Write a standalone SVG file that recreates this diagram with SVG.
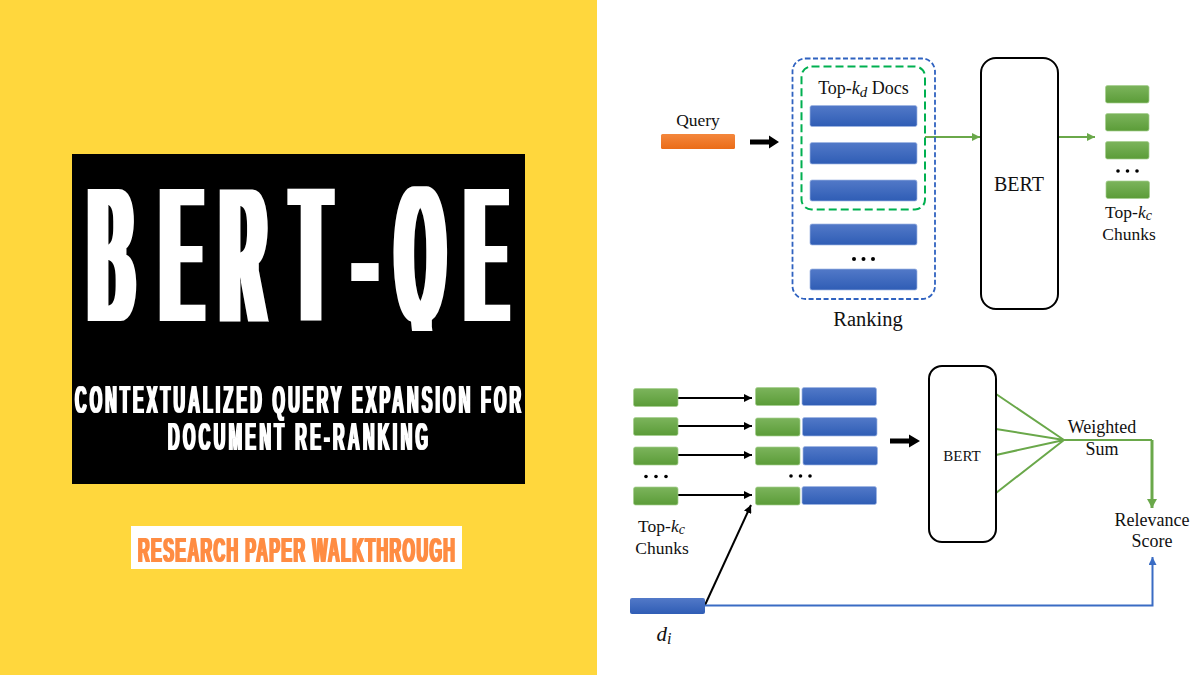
<svg xmlns="http://www.w3.org/2000/svg" width="1200" height="675" viewBox="0 0 1200 675">
<style>
.s{font-family:"Liberation Serif","Times New Roman",serif;fill:#111;text-anchor:middle}
.c{font-family:"Liberation Sans",Arial,sans-serif;font-weight:700}
.i{font-style:italic}
.g{fill:url(#gg);stroke:#a5cf8e;stroke-width:.7}
.b{fill:url(#gb);stroke:#9db5e3;stroke-width:.7}
.box{fill:#fff;stroke:#000;stroke-width:2}
.l{fill:none;stroke-linejoin:miter}
.d{fill:#000}
</style>
<defs>
<linearGradient id="gg" x1="0" y1="0" x2="0" y2="1"><stop offset="0" stop-color="#7cb45c"/><stop offset="1" stop-color="#5b9c38"/></linearGradient>
<linearGradient id="gb" x1="0" y1="0" x2="0" y2="1"><stop offset="0" stop-color="#5279c8"/><stop offset="1" stop-color="#2f5db5"/></linearGradient>
<linearGradient id="go" x1="0" y1="0" x2="0" y2="1"><stop offset="0" stop-color="#f4873c"/><stop offset="1" stop-color="#ea6c18"/></linearGradient>
<filter id="heavy" x="-5%" y="-5%" width="110%" height="110%"><feMorphology operator="erode" radius="0 3"/><feMorphology operator="dilate" radius="6 0"/></filter>
<filter id="bold" x="-5%" y="-10%" width="110%" height="120%"><feMorphology operator="dilate" radius=".6 0"/></filter>
<clipPath id="title-clip"><rect x="72" y="170" width="453" height="161"/></clipPath>
<marker id="ag" markerUnits="userSpaceOnUse" markerWidth="10" markerHeight="8" refX="8" refY="4" orient="auto"><path d="M0 0L8 4L0 8Z" fill="#6aa84a"/></marker>
<marker id="ak" markerUnits="userSpaceOnUse" markerWidth="10" markerHeight="8" refX="8" refY="4" orient="auto"><path d="M0 0L8 4L0 8Z" fill="#000"/></marker>
<marker id="ab" markerUnits="userSpaceOnUse" markerWidth="10" markerHeight="8" refX="8" refY="4" orient="auto"><path d="M0 0L8 4L0 8Z" fill="#3a6cc4"/></marker>
<marker id="agt" markerUnits="userSpaceOnUse" markerWidth="10" markerHeight="10" refX="9" refY="5" orient="auto"><path d="M0 0L9 5L0 10Z" fill="#6aa84a"/></marker>
</defs>
<rect width="1200" height="675" fill="#fff"/>
<rect width="597" height="675" fill="#ffd73d"/>
<g id="title-card">
<rect x="72" y="154" width="453" height="330" fill="#000"/>
<g clip-path="url(#title-clip)"><g filter="url(#heavy)"><text class="c" fill="#fff" font-size="200" transform="scale(.3 1)" y="324" x="299 539 739 976 1183 1323 1555">BERT-QE</text></g></g>
<g filter="url(#bold)"><text class="c" fill="#fff" font-size="38" transform="scale(.42 1)" x="178.600" y="413" textLength="1062" lengthAdjust="spacing">CONTEXTUALIZED QUERY EXPANSION FOR</text></g>
<g filter="url(#bold)"><text class="c" fill="#fff" font-size="38" transform="scale(.42 1)" x="400" y="450" textLength="619" lengthAdjust="spacing">DOCUMENT RE-RANKING</text></g>
</g>
<g id="walkthrough-badge">
<rect x="131" y="526" width="331" height="43" fill="#fff"/>
<g filter="url(#bold)"><text class="c" fill="#ff8c42" font-size="35" transform="scale(.46 1)" x="300" y="562" textLength="689" lengthAdjust="spacing">RESEARCH PAPER WALKTHROUGH</text></g>
</g>
<g id="connectors">
<path class="l" d="M925 137H980" stroke="#6aa84a" stroke-width="2" marker-end="url(#ag)"/>
<path class="l" d="M1059 137H1095" stroke="#6aa84a" stroke-width="2" marker-end="url(#ag)"/>
<path d="M750 139.500H769V135.500L779 142L769 148.500V144.500H750Z"/>
<path d="M890 438.500H909V434.500L920 441L909 447.500V443.500H890Z"/>
<path class="l" d="M678 398H752" stroke="#000" stroke-width="2" marker-end="url(#ak)"/>
<path class="l" d="M678 426H752" stroke="#000" stroke-width="2" marker-end="url(#ak)"/>
<path class="l" d="M678 455H752" stroke="#000" stroke-width="2" marker-end="url(#ak)"/>
<path class="l" d="M678 495H752" stroke="#000" stroke-width="2" marker-end="url(#ak)"/>
<path class="l" d="M705 605L751 505" stroke="#000" stroke-width="2" marker-end="url(#ak)"/>
<path class="l" d="M705 605.500H1152.500V557" stroke="#3a6cc4" stroke-width="2" marker-end="url(#ab)"/>
<path class="l" d="M996 394L1064 440M996 429L1064 440M996 455L1064 440M996 493L1064 440" stroke="#6aa84a" stroke-width="2"/>
<path class="l" d="M1064 440H1152" stroke="#6aa84a" stroke-width="2"/>
<path class="l" d="M1152 440V508" stroke="#6aa84a" stroke-width="3" marker-end="url(#agt)"/>
</g>
<g id="query">
<text class="s" font-size="17.500" x="698" y="126">Query</text>
<rect x="661" y="134" width="74" height="15" rx="1.500" fill="url(#go)"/>
</g>
<g id="ranking">
<rect class="l" x="792.500" y="58.500" width="142.500" height="240.500" rx="13" stroke="#2f62c0" stroke-width="1.800" stroke-dasharray="5 2.500"/>
<rect class="b" x="810" y="224" width="107" height="21" rx="2"/>
<rect class="b" x="810" y="269" width="107" height="21" rx="2"/>
<circle class="d" cx="854" cy="259" r="2"/><circle class="d" cx="863.500" cy="259" r="2"/><circle class="d" cx="873" cy="259" r="2"/>
<text class="s" font-size="20.500" x="868" y="326">Ranking</text>
</g>
<g id="top-kd-docs">
<rect class="l" x="801.500" y="66.500" width="123.500" height="143" rx="10" stroke="#00b050" stroke-width="2" stroke-dasharray="8 4"/>
<text class="s" font-size="18" x="863.500" y="94">Top-<tspan class="i">k</tspan><tspan class="i" font-size="15" dy="3">d</tspan><tspan dy="-3"> Docs</tspan></text>
<rect class="b" x="810" y="105.500" width="107" height="21" rx="2"/>
<rect class="b" x="810" y="142.500" width="107" height="21.500" rx="2"/>
<rect class="b" x="810" y="180" width="107" height="21" rx="2"/>
</g>
<g id="bert-top">
<rect class="box" x="981" y="58" width="77" height="251" rx="15"/>
<text class="s" font-size="20" x="1019" y="191">BERT</text>
</g>
<g id="chunks-top">
<rect class="g" x="1105.500" y="85.500" width="43.500" height="17.500" rx="2"/>
<rect class="g" x="1105.500" y="113.500" width="43.500" height="17.500" rx="2"/>
<rect class="g" x="1105.500" y="141.500" width="43.500" height="17.500" rx="2"/>
<circle class="d" cx="1118" cy="171" r="1.800"/><circle class="d" cx="1127.500" cy="171" r="1.800"/><circle class="d" cx="1137" cy="171" r="1.800"/>
<rect class="g" x="1106" y="181" width="43.500" height="17.500" rx="2"/>
<text class="s" font-size="17.500" x="1128.500" y="218">Top-<tspan class="i">k</tspan><tspan class="i" font-size="14" dy="2">c</tspan></text>
<text class="s" font-size="17.500" x="1129" y="240">Chunks</text>
</g>
<g id="chunks-bottom">
<rect class="g" x="633.500" y="388.500" width="44.500" height="18" rx="2"/>
<rect class="g" x="633.500" y="417.500" width="44.500" height="18" rx="2"/>
<rect class="g" x="633.500" y="447" width="44.500" height="18" rx="2"/>
<circle class="d" cx="646" cy="476.500" r="1.800"/><circle class="d" cx="656" cy="476.500" r="1.800"/><circle class="d" cx="666" cy="476.500" r="1.800"/>
<rect class="g" x="633.500" y="487" width="44.500" height="18" rx="2"/>
<text class="s" font-size="17.500" x="661.500" y="532">Top-<tspan class="i">k</tspan><tspan class="i" font-size="14" dy="2">c</tspan></text>
<text class="s" font-size="17.500" x="662" y="554">Chunks</text>
</g>
<g id="pairs">
<rect class="g" x="755.500" y="387.500" width="44" height="18" rx="2"/><rect class="b" x="802" y="387.500" width="74.500" height="18" rx="2"/>
<rect class="g" x="755.500" y="418" width="44.500" height="18" rx="2"/><rect class="b" x="802.500" y="417.500" width="74.500" height="18.500" rx="2"/>
<rect class="g" x="755.500" y="447" width="44.500" height="18" rx="2"/><rect class="b" x="803" y="446.500" width="74.500" height="18.500" rx="2"/>
<circle class="d" cx="791" cy="476" r="1.800"/><circle class="d" cx="800.500" cy="476" r="1.800"/><circle class="d" cx="810" cy="476" r="1.800"/>
<rect class="g" x="755.500" y="487" width="44.500" height="18" rx="2"/><rect class="b" x="802" y="486.500" width="74.500" height="18" rx="2"/>
</g>
<g id="document">
<rect x="630" y="598" width="75" height="16" rx="2" fill="url(#gb)"/>
<text class="s i" font-size="21" x="664" y="641">d<tspan font-size="16" dy="3">i</tspan></text>
</g>
<g id="bert-bottom">
<rect class="box" x="929" y="366" width="67" height="176" rx="13"/>
<text class="s" font-size="15" x="962" y="461">BERT</text>
</g>
<g id="weighted-sum">
<text class="s" font-size="18" x="1102" y="433">Weighted</text>
<text class="s" font-size="18" x="1102" y="455">Sum</text>
</g>
<g id="relevance-score">
<text class="s" font-size="18" x="1152" y="526">Relevance</text>
<text class="s" font-size="18" x="1152" y="547">Score</text>
</g>
</svg>
